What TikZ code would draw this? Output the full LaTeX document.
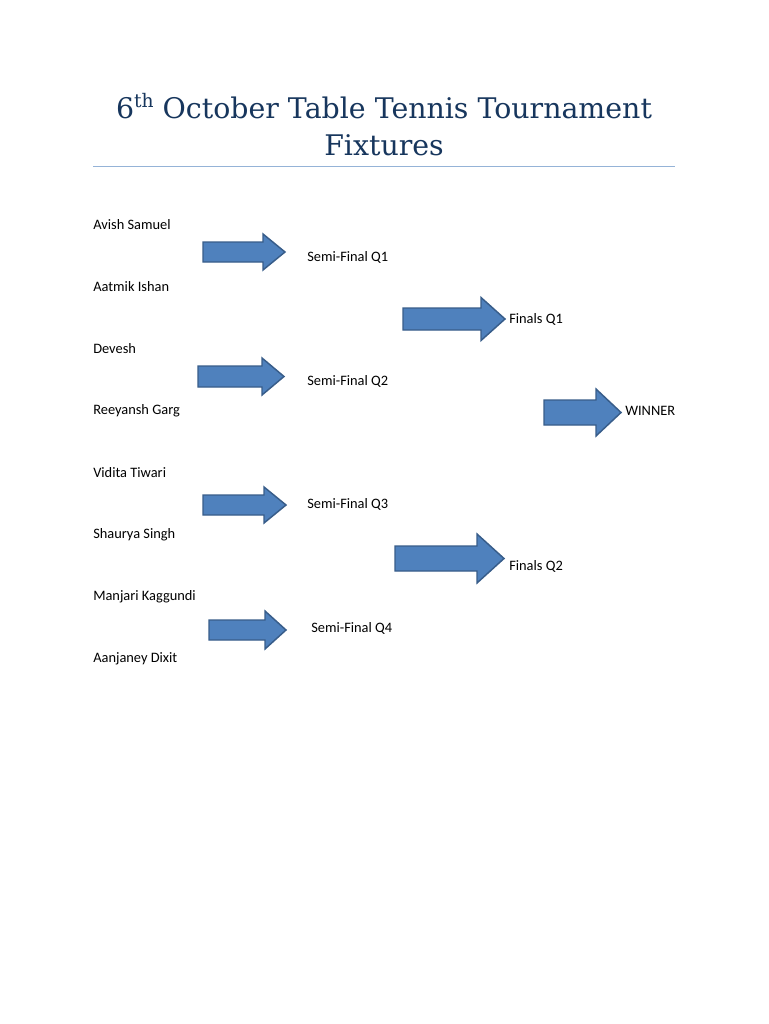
\documentclass[tikz,border=0pt]{standalone}
\usepackage{fontspec}
\setmainfont{Carlito}
\newfontfamily\titlefont{DejaVu Serif}
\definecolor{titleblue}{HTML}{17365D}
\definecolor{rulecol}{HTML}{95B3D7}
\definecolor{arrowfill}{HTML}{4F81BD}
\definecolor{arrowline}{HTML}{385D8A}
\newcommand{\blockarrow}[6]{% x1, xhead, x2, yc, half shaft, half head
  \draw[barrow] (#1,#4-#5) -- (#2,#4-#5) -- (#2,#4-#6) -- (#3,#4) -- (#2,#4+#6) -- (#2,#4+#5) -- (#1,#4+#5) -- cycle;}
\begin{document}
\begin{tikzpicture}[x=0.75pt,y=-0.75pt,
  pname/.style={anchor=west,inner sep=0pt,font=\fontsize{10.8}{13}\selectfont},
  titletext/.style={anchor=base,inner sep=0pt,text=titleblue,font=\titlefont\fontsize{21.3}{28}\selectfont},
  barrow/.style={fill=arrowfill,draw=arrowline,line width=1.1pt,line join=miter}]
\useasboundingbox (0,0) rectangle (768,1024);
\fill[white] (0,0) rectangle (768,1024);
% title
\node[titletext] (t1) at (384,118) {6{\fontsize{14}{14}\selectfont\raisebox{0.55em}{th}} October Table Tennis Tournament};
\node[titletext] (t2) at (384,155) {Fixtures};
\draw[rulecol,line width=1.2pt] (93,166.5) -- (675,166.5);
% players
\node[pname] (p1) at (93,225) {Avish Samuel};
\node[pname] (p2) at (93,287) {Aatmik Ishan};
\node[pname] (p3) at (93,349) {Devesh};
\node[pname] (p4) at (93,411) {Reeyansh Garg};
\node[pname] (p5) at (93,473) {Vidita Tiwari};
\node[pname] (p6) at (93,535) {Shaurya Singh};
\node[pname] (p7) at (93,597) {Manjari Kaggundi};
\node[pname] (p8) at (93,659) {Aanjaney Dixit};
% rounds
\node[pname] (s1) at (307,257) {Semi-Final Q1};
\node[pname] (s2) at (307,381) {Semi-Final Q2};
\node[pname] (s3) at (307,504) {Semi-Final Q3};
\node[pname] (s4) at (311,628) {Semi-Final Q4};
\node[pname] (f1) at (509,319) {Finals Q1};
\node[pname] (f2) at (509,566) {Finals Q2};
\node[pname] (w) at (625,411) {WINNER};
% arrows
\blockarrow{203}{263}{285}{252}{10}{18}
\blockarrow{403}{481}{505}{319}{11}{21.5}
\blockarrow{198}{262}{284}{376.5}{10.5}{18.5}
\blockarrow{544}{596}{621}{412.5}{12.5}{23.5}
\blockarrow{203}{264}{286}{505}{10}{18}
\blockarrow{395}{477}{504}{558.5}{12.5}{24.5}
\blockarrow{209}{265}{286}{630}{10}{19}
\end{tikzpicture}
\end{document}
